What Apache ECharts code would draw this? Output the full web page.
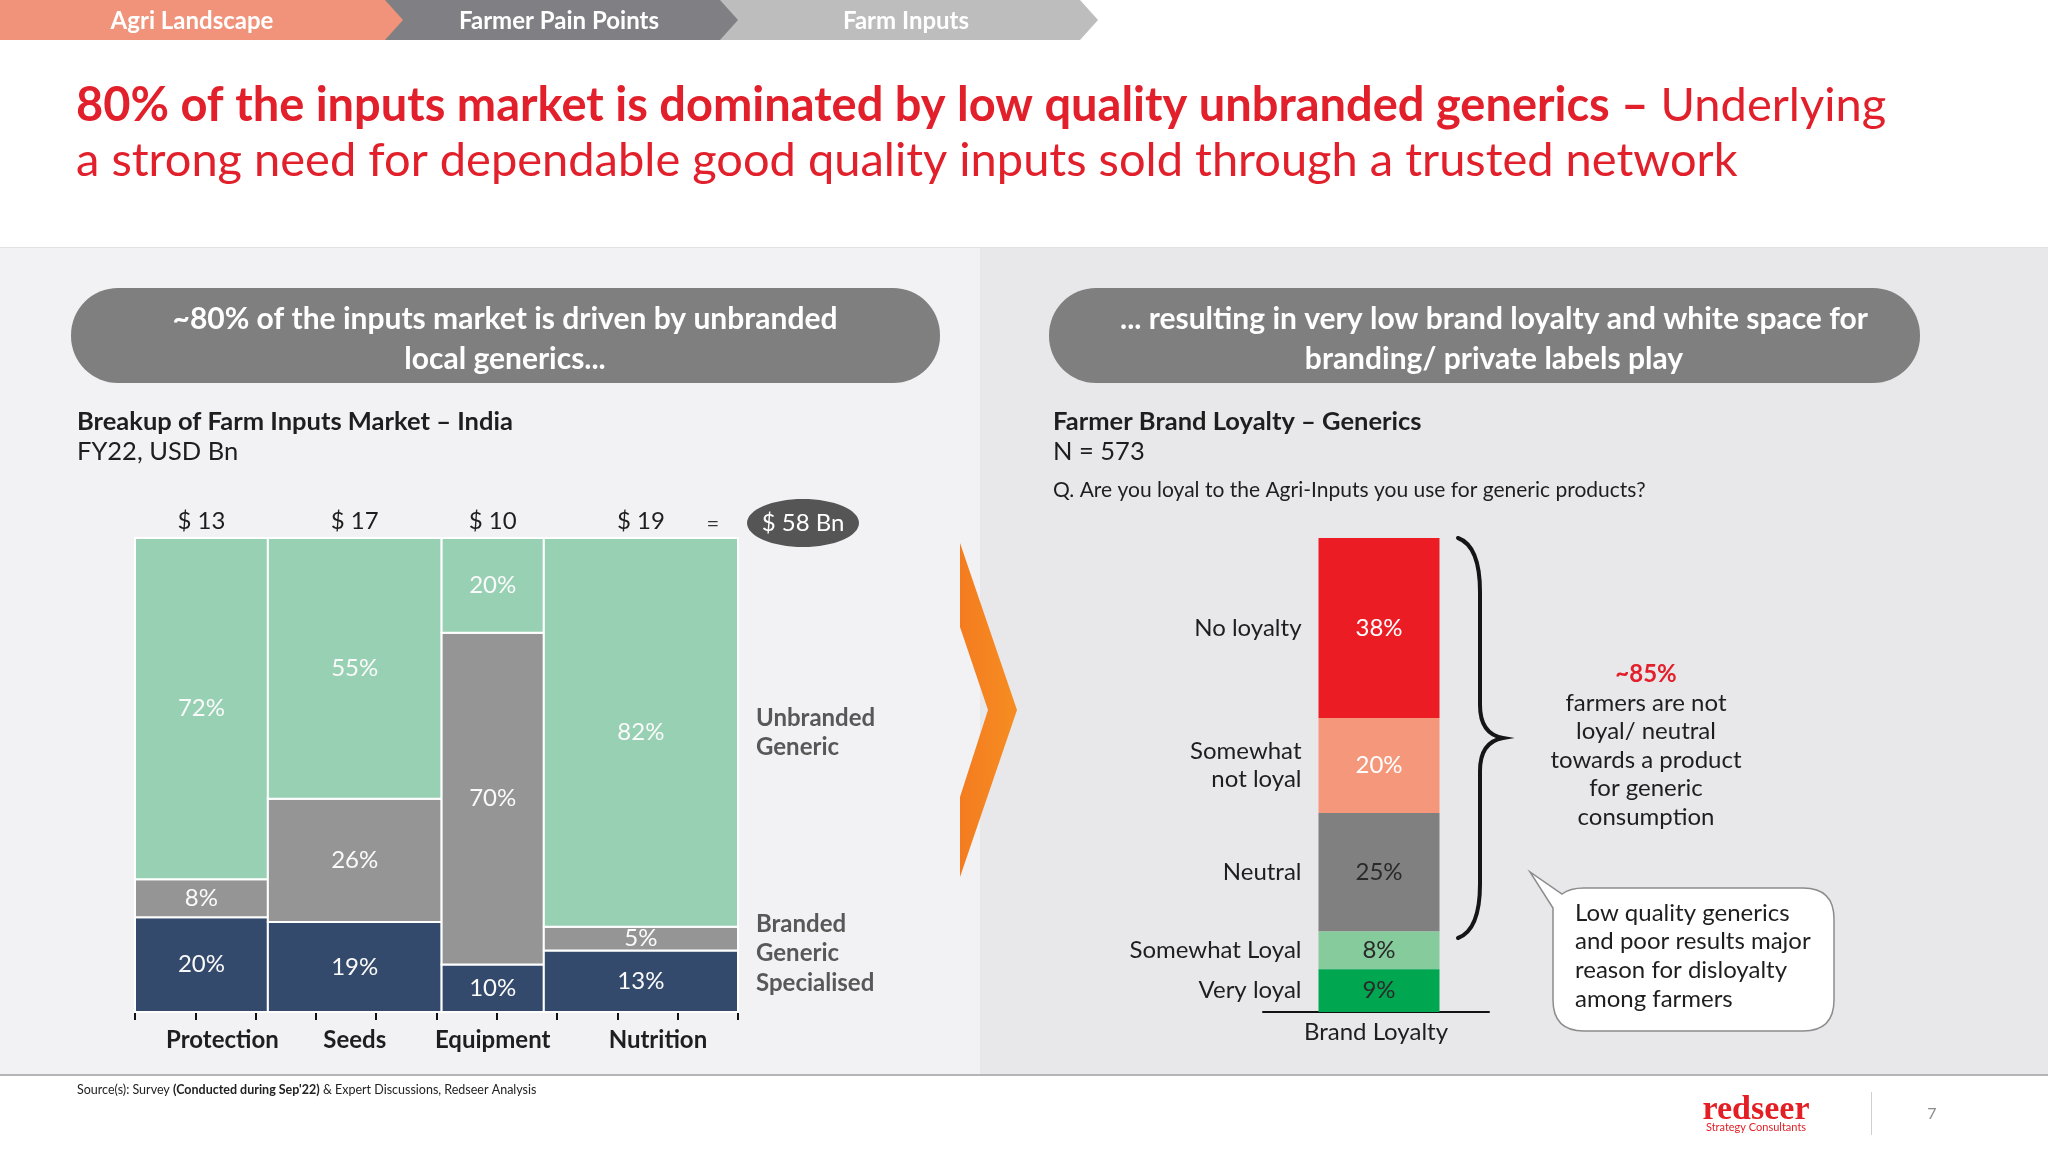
<!DOCTYPE html>
<html>
<head>
<meta charset="utf-8">
<script src="https://cdn.jsdelivr.net/npm/echarts@6/dist/echarts.min.js"></script>
<style>
html,body{margin:0;padding:0;background:#fff;}
#c{width:2048px;height:1152px;}
</style>
</head>
<body>
<div id="c"></div>
<script>
// ---------------- DATA ----------------
const categories = ['Protection', 'Seeds', 'Equipment', 'Nutrition'];
const marketSize = [13, 17, 10, 19];           // USD Bn
const specialised = [20, 19, 10, 13];          // % (bottom)
const branded = [8, 26, 70, 5];                // % (middle)
const unbranded = [72, 55, 20, 82];            // % (top)
const segmentNames = ['Specialised', 'Branded\nGeneric', 'Unbranded\nGeneric'];
const totalLabel = '$ 58 Bn';

const loyaltyCategory = ['Brand Loyalty'];
const loyaltyLevels = ['No loyalty', 'Somewhat\nnot loyal', 'Neutral', 'Somewhat Loyal', 'Very loyal'];
const loyaltyShare = [38, 20, 25, 8, 9];

// ---------------- STYLE ----------------
const FONT = 'Lato';
const RED = '#e2202b';
const segColors = ['#344a6c', '#959595', '#98d0b3'];
const loyaltyColors = ['#ec1c24', '#f4977a', '#808080', '#86cb9b', '#00a650'];
const loyaltyLabelColors = ['#ffffff', '#ffffff', '#2a2a2a', '#2a2a2a', '#2a2a2a'];
const LOYAL_BAR_W = 121;
const categoryLabelNudge = [21, 0, 0, 17];     // horizontal label nudge (px), as laid out on the slide

// ---------------- DERIVED ----------------
const sumSize = marketSize.reduce((a, b) => a + b, 0);
const cells = [];
const catCols = [];
(function () {
  let cum = 0;
  categories.forEach((c, i) => {
    const x0 = cum / sumSize * 100;
    cum += marketSize[i];
    const x1 = cum / sumSize * 100;
    const parts = [specialised[i], branded[i], unbranded[i]];
    let y = 0;
    parts.forEach((p, s) => { cells.push([x0, x1, y, y + p, p, s, i]); y += p; });
    catCols.push([x0, x1, i]);
  });
})();

const loyaltyCells = [];
(function () {
  let y = 100;
  loyaltyLevels.forEach((n, k) => {
    loyaltyCells.push([0, y - loyaltyShare[k], y, k]);
    y -= loyaltyShare[k];
  });
})();

function txt(x, y, text, o) {
  o = o || {};
  return {
    type: 'text', z: o.z || 50,
    style: {
      x: x, y: y, text: text,
      fill: o.fill || '#222',
      fontFamily: o.family || FONT,
      fontSize: o.size || 24,
      fontWeight: o.weight || 'normal',
      lineHeight: o.lh,
      align: o.align || 'left', textAlign: o.align || 'left',
      verticalAlign: 'middle', textVerticalAlign: 'middle',
      rich: o.rich
    }
  };
}

const graphics = [
  // backgrounds
  { type: 'rect', z: -5, shape: { x: 0, y: 0, width: 2048, height: 1152 }, style: { fill: '#ffffff' } },
  { type: 'rect', z: -4, shape: { x: 0, y: 248, width: 980, height: 827 }, style: { fill: '#f2f1f3' } },
  { type: 'rect', z: -4, shape: { x: 980, y: 248, width: 1068, height: 827 }, style: { fill: '#e8e7ea' } },
  { type: 'rect', z: -3, shape: { x: 0, y: 247, width: 2048, height: 1 }, style: { fill: '#e2e2e2' } },
  { type: 'rect', z: -3, shape: { x: 0, y: 1074, width: 2048, height: 2 }, style: { fill: '#b5b5b5' } },
  // tabs
  { type: 'polygon', z: 1, shape: { points: [[720, 0], [1080, 0], [1098, 20], [1080, 40], [720, 40]] }, style: { fill: '#bdbdbd' } },
  { type: 'polygon', z: 2, shape: { points: [[385, 0], [720, 0], [738, 20], [720, 40], [385, 40]] }, style: { fill: '#808084' } },
  { type: 'polygon', z: 3, shape: { points: [[0, 0], [385, 0], [403, 20], [385, 40], [0, 40]] }, style: { fill: '#f0937a' } },
  txt(192, 21, 'Agri Landscape', { fill: '#fff', size: 24, weight: 'bold', align: 'center' }),
  txt(559, 21, 'Farmer Pain Points', { fill: '#fff', size: 24, weight: 'bold', align: 'center' }),
  txt(906, 21, 'Farm Inputs', { fill: '#fff', size: 24, weight: 'bold', align: 'center' }),
  // title
  txt(76, 106, '{b|80% of the inputs market is dominated by low quality unbranded generics –}{r| Underlying}', {
    rich: {
      b: { fontFamily: FONT, fontWeight: 'bold', fontSize: 47, fill: RED, color: RED },
      r: { fontFamily: FONT, fontWeight: 'normal', fontSize: 47, fill: RED, color: RED }
    }
  }),
  txt(76, 161, 'a strong need for dependable good quality inputs sold through a trusted network', { fill: RED, size: 47 }),
  // pills
  { type: 'rect', z: 1, shape: { x: 71, y: 288, width: 869, height: 95, r: 47 }, style: { fill: '#7f7f7f' } },
  txt(505, 339, '~80% of the inputs market is driven by unbranded\nlocal generics...', { fill: '#fff', size: 30, weight: 'bold', align: 'center', lh: 40 }),
  { type: 'rect', z: 1, shape: { x: 1049, y: 288, width: 871, height: 95, r: 47 }, style: { fill: '#7f7f7f' } },
  txt(1494, 339, '... resulting in very low brand loyalty and white space for\nbranding/ private labels play', { fill: '#fff', size: 30, weight: 'bold', align: 'center', lh: 40 }),
  // left subtitle
  txt(77, 422, 'Breakup of Farm Inputs Market – India', { size: 25.5, weight: 'bold', fill: '#1e1e1e' }),
  txt(77, 452, 'FY22, USD Bn', { size: 25.5, fill: '#1e1e1e' }),
  // equals + total bubble
  txt(713, 524, '=', { size: 22, fill: '#333', align: 'center' }),
  { type: 'ellipse', z: 10, shape: { cx: 803, cy: 523, rx: 56, ry: 24 }, style: { fill: '#555555' } },
  txt(803, 523, totalLabel, { size: 24, fill: '#fff', align: 'center' }),
  // chevron
  { type: 'polygon', z: 5, shape: { points: [[960, 543], [1017, 710], [960, 877], [960, 797], [988, 710], [960, 627]] },
    style: { fill: new echarts.graphic.LinearGradient(0, 0, 1, 0, [{ offset: 0, color: '#f47c20' }, { offset: 1, color: '#f68d21' }]) } },
  // right subtitle
  txt(1053, 422, 'Farmer Brand Loyalty – Generics', { size: 25.5, weight: 'bold', fill: '#1e1e1e' }),
  txt(1053, 452, 'N = 573', { size: 25.5, fill: '#1e1e1e' }),
  txt(1053, 490, 'Q. Are you loyal to the Agri-Inputs you use for generic products?', { size: 21, fill: '#1e1e1e' }),
  // ~85% note
  txt(1646, 674, '~85%', { size: 24, weight: 'bold', fill: RED, align: 'center' }),
  txt(1646, 760, 'farmers are not\nloyal/ neutral\ntowards a product\nfor generic\nconsumption', { size: 24, fill: '#1e1e1e', align: 'center', lh: 28.4 }),
  txt(1575, 956, 'Low quality generics\nand poor results major\nreason for disloyalty\namong farmers', { size: 24, fill: '#1e1e1e', lh: 28.7, z: 60 }),
  // footer
  txt(77, 1090, "{n|Source(s): Survey }{b|(Conducted during Sep'22)}{n| & Expert Discussions, Redseer Analysis}", {
    rich: {
      n: { fontFamily: FONT, fontSize: 12.5, fill: '#222', color: '#222' },
      b: { fontFamily: FONT, fontSize: 12.5, fontWeight: 'bold', fill: '#222', color: '#222' }
    }
  }),
  txt(1756, 1110, 'redseer', { family: 'Liberation Serif', size: 34, weight: 'bold', fill: '#e31e25', align: 'center' }),
  txt(1756, 1127, 'Strategy Consultants', { size: 11, fill: '#e31e25', align: 'center' }),
  { type: 'rect', z: 1, shape: { x: 1871, y: 1092, width: 1, height: 43 }, style: { fill: '#cfcfcf' } },
  txt(1932, 1114, '7', { size: 16, fill: '#8a8a8a', align: 'center' })
];

const chart = echarts.init(document.getElementById('c'), null, { renderer: 'canvas' });

const option = {
  animation: false,
  backgroundColor: 'transparent',
  textStyle: { fontFamily: FONT },
  grid: [
    { left: 135, width: 603, top: 538, height: 474 },
    { left: 1263, width: 226, top: 538, height: 474 }
  ],
  xAxis: [
    {
      gridIndex: 0, type: 'value', min: 0, max: 100, interval: 10,
      axisLine: { show: true, lineStyle: { color: '#111', width: 2 } },
      axisTick: { show: true, inside: false, length: 8, lineStyle: { color: '#111', width: 2 } },
      axisLabel: { show: false }, splitLine: { show: false }
    },
    {
      gridIndex: 1, type: 'category', data: loyaltyCategory,
      axisLine: { show: true, lineStyle: { color: '#111', width: 2 } },
      axisTick: { show: false },
      axisLabel: { show: true, fontFamily: FONT, fontSize: 24, color: '#1e1e1e', margin: 8 }
    }
  ],
  yAxis: [
    { gridIndex: 0, type: 'value', min: 0, max: 100, show: false },
    { gridIndex: 1, type: 'value', min: 0, max: 100, show: false }
  ],
  graphic: { elements: graphics },
  series: [
    {
      type: 'custom', xAxisIndex: 0, yAxisIndex: 0, z: 3,
      data: cells,
      encode: { x: [0, 1], y: [2, 3] },
      renderItem: function (params, api) {
        const x0 = api.value(0), x1 = api.value(1), y0 = api.value(2), y1 = api.value(3);
        const pct = api.value(4), s = api.value(5), ci = api.value(6);
        const a = api.coord([x0, y1]);
        const b = api.coord([x1, y0]);
        const children = [
          { type: 'rect', shape: { x: a[0], y: a[1], width: b[0] - a[0], height: b[1] - a[1] },
            style: { fill: segColors[s], stroke: '#ffffff', lineWidth: 2 } },
          { type: 'text', style: { text: pct + '%', x: (a[0] + b[0]) / 2, y: (a[1] + b[1]) / 2,
              align: 'center', textAlign: 'center', verticalAlign: 'middle', textVerticalAlign: 'middle',
              fill: '#fafafa', fontFamily: FONT, fontSize: 24 } }
        ];
        if (ci === categories.length - 1) {
          children.push({ type: 'text', style: { text: segmentNames[s], x: b[0] + 18, y: (a[1] + b[1]) / 2 + (s === 0 ? 2 : 0),
            align: 'left', textAlign: 'left', verticalAlign: 'middle', textVerticalAlign: 'middle',
            fill: '#585858', fontFamily: FONT, fontSize: 24, fontWeight: 'bold', lineHeight: 29 } });
        }
        return { type: 'group', children: children };
      }
    },
    {
      type: 'custom', xAxisIndex: 0, yAxisIndex: 0, z: 4,
      data: catCols,
      encode: { x: [0, 1] },
      renderItem: function (params, api) {
        const x0 = api.value(0), x1 = api.value(1), i = api.value(2);
        const top = api.coord([(x0 + x1) / 2, 100]);
        const bot = api.coord([(x0 + x1) / 2, 0]);
        return {
          type: 'group', children: [
            { type: 'text', style: { text: '$ ' + marketSize[i], x: top[0], y: top[1] - 17,
                align: 'center', textAlign: 'center', verticalAlign: 'middle', textVerticalAlign: 'middle',
                fill: '#1e1e1e', fontFamily: FONT, fontSize: 24 } },
            { type: 'text', style: { text: categories[i], x: bot[0] + categoryLabelNudge[i], y: bot[1] + 28,
                align: 'center', textAlign: 'center', verticalAlign: 'middle', textVerticalAlign: 'middle',
                fill: '#1e1e1e', fontFamily: FONT, fontSize: 24, fontWeight: 'bold' } }
          ]
        };
      }
    },
    {
      type: 'custom', xAxisIndex: 1, yAxisIndex: 1, z: 3,
      data: loyaltyCells,
      encode: { x: 0, y: [1, 2] },
      renderItem: function (params, api) {
        const y0 = api.value(1), y1 = api.value(2), k = api.value(3);
        const a = api.coord([0, y1]);
        const b = api.coord([0, y0]);
        const cx = a[0] + 3;
        const left = cx - LOYAL_BAR_W / 2;
        const midY = (a[1] + b[1]) / 2;
        return {
          type: 'group', children: [
            { type: 'rect', shape: { x: left, y: a[1], width: LOYAL_BAR_W, height: b[1] - a[1] },
              style: { fill: loyaltyColors[k] } },
            { type: 'text', style: { text: loyaltyShare[k] + '%', x: cx, y: midY,
                align: 'center', textAlign: 'center', verticalAlign: 'middle', textVerticalAlign: 'middle',
                fill: loyaltyLabelColors[k], fontFamily: FONT, fontSize: 24 } },
            { type: 'text', style: { text: loyaltyLevels[k], x: left - 17, y: midY,
                align: 'right', textAlign: 'right', verticalAlign: 'middle', textVerticalAlign: 'middle',
                fill: '#1e1e1e', fontFamily: FONT, fontSize: 24, lineHeight: 28 } }
          ]
        };
      }
    },
    {
      // decorative shapes: curly brace and speech-bubble callout
      type: 'custom', coordinateSystem: 'none', z: 5, silent: true,
      data: [[0]],
      renderItem: function () {
        return {
          type: 'group', children: [
            { type: 'path', shape: { pathData: 'M1458 538 Q1480 546 1480 592 L1480 705 Q1480 734 1503 738 Q1480 742 1480 771 L1480 884 Q1480 930 1458 938' },
              style: { fill: null, stroke: '#151515', lineWidth: 4, lineCap: 'round' } },
            { type: 'path', shape: { pathData: 'M1584 888 L1803 888 Q1834 888 1834 919 L1834 1000 Q1834 1031 1803 1031 L1584 1031 Q1553 1031 1553 1000 L1553 908 L1530 872 L1562 894 Q1570 888 1584 888 Z' },
              style: { fill: '#ffffff', stroke: '#8c8c8c', lineWidth: 1.5 } }
          ]
        };
      }
    }
  ]
};
chart.setOption(option);
</script>
</body>
</html>
